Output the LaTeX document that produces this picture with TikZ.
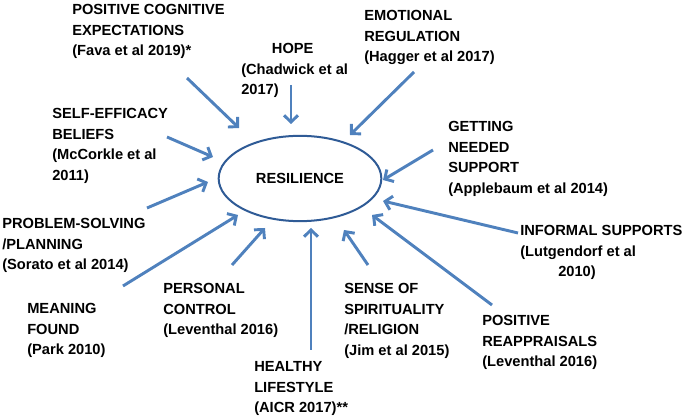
\documentclass[tikz,border=0pt]{standalone}
\usepackage{fontspec}
\setmainfont{Liberation Sans}
\usetikzlibrary{arrows.meta,positioning,shapes.geometric}
\definecolor{arrblue}{HTML}{4F81BD}
\definecolor{ringblue}{HTML}{2F5B96}

\begin{document}
\begin{tikzpicture}[x=0.75pt, y=-0.75pt,
  lbl/.style={anchor=north west, inner sep=0pt, align=left,
    font=\fontsize{11}{15.5}\selectfont\bfseries},
  arr/.style={arrblue, line width=2.2pt,
    -{Straight Barb[length=5pt,width=10.5pt]}}]

  \useasboundingbox (0,0) rectangle (685,416);

  % ---- Centre ----
  \node[ellipse, draw=ringblue, line width=1.5pt, minimum width=122pt,
    minimum height=64pt, font=\fontsize{11}{13}\selectfont\bfseries]
    (res) at (300,178.5) {RESILIENCE};

  % ---- Factors (top) ----
  \node[lbl] (pce) at (72,4) {POSITIVE COGNITIVE\\EXPECTATIONS\\(Fava et al 2019)*};
  \node[lbl] (hope) at (241,43) {\hspace*{23pt}HOPE\\(Chadwick et al\\2017)};
  \node[lbl] (emo) at (364,10) {EMOTIONAL\\REGULATION\\(Hagger et al 2017)};
  \node[lbl] (self) at (52,108) {SELF-EFFICACY\\BELIEFS\\(McCorkle et al\\2011)};
  \node[lbl] (need) at (448,121) {GETTING\\NEEDED\\SUPPORT\\(Applebaum et al 2014)};

  % ---- Factors (bottom) ----
  \node[lbl] (prob) at (2,218) {PROBLEM-SOLVING\\/PLANNING\\(Sorato et al 2014)};
  \node[lbl] (inf) at (520,225) {INFORMAL SUPPORTS\\(Lutgendorf et al\\\hspace*{28.5pt}2010)};
  \node[lbl] (mean) at (27,303) {MEANING\\FOUND\\(Park 2010)};
  \node[lbl] (pers) at (163,283) {PERSONAL\\CONTROL\\(Leventhal 2016)};
  \node[lbl] (spir) at (344,283) {SENSE OF\\SPIRITUALITY\\/RELIGION\\(Jim et al 2015)};
  \node[lbl] (life) at (254,361) {HEALTHY\\LIFESTYLE\\(AICR 2017)**};
  \node[lbl] (reap) at (482,315) {POSITIVE\\REAPPRAISALS\\(Leventhal 2016)};

  % ---- Arrow ends ----
  \coordinate (pce-a) at (187,78);   \coordinate (pce-b) at (239,128);
  \coordinate (hope-a) at (291,85);  \coordinate (hope-b) at (291,124);
  \coordinate (emo-a) at (414,72);   \coordinate (emo-b) at (350,135);
  \coordinate (self-a) at (167,137); \coordinate (self-b) at (213,157);
  \coordinate (need-a) at (433,150); \coordinate (need-b) at (383,180);
  \coordinate (prob-a) at (147,208); \coordinate (prob-b) at (208,182);
  \coordinate (mean-a) at (123,286); \coordinate (mean-b) at (238,215);
  \coordinate (pers-a) at (232,265); \coordinate (pers-b) at (265,228);
  \coordinate (life-a) at (311,350); \coordinate (life-b) at (311,228);
  \coordinate (spir-a) at (368,265); \coordinate (spir-b) at (344,230);
  \coordinate (reap-a) at (492,305); \coordinate (reap-b) at (372,215);
  \coordinate (inf-a) at (518,233);  \coordinate (inf-b) at (383,201);

  % ---- Arrows ----
  \draw[arr] (pce-a) -- (pce-b);
  \draw[arr] (hope-a) -- (hope-b);
  \draw[arr] (emo-a) -- (emo-b);
  \draw[arr] (self-a) -- (self-b);
  \draw[arr] (need-a) -- (need-b);
  \draw[arr] (prob-a) -- (prob-b);
  \draw[arr] (mean-a) -- (mean-b);
  \draw[arr] (pers-a) -- (pers-b);
  \draw[arr] (life-a) -- (life-b);
  \draw[arr] (spir-a) -- (spir-b);
  \draw[arr] (reap-a) -- (reap-b);
  \draw[arr] (inf-a) -- (inf-b);

\end{tikzpicture}
\end{document}
